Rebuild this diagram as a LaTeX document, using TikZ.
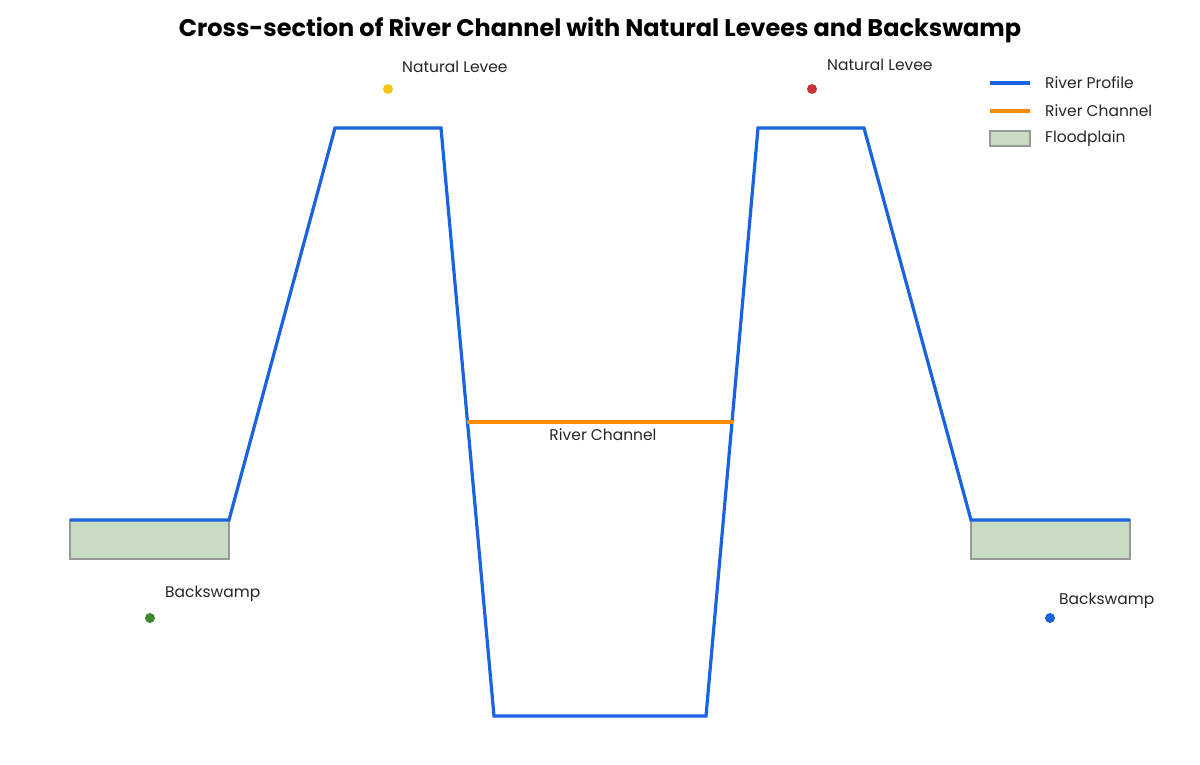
\documentclass[tikz,border=0pt]{standalone}
\usepackage{fontspec}
\setmainfont{Poppins}
\usetikzlibrary{positioning}
\definecolor{profile}{HTML}{1A63E0}
\definecolor{chan}{HTML}{FF8C00}
\definecolor{flood}{HTML}{C8DCC4}
\definecolor{levL}{HTML}{F5C518}
\definecolor{levR}{HTML}{C8333A}
\definecolor{bswL}{HTML}{3F8A2E}
\definecolor{bswR}{HTML}{1A63E0}
\tikzset{
  lbl/.style = {anchor=west, inner sep=0pt, font=\fontsize{15.5}{18}\selectfont, text=black!85},
  dot/.style = {circle, fill=#1, inner sep=0pt, minimum size=10pt},
  prof/.style = {draw=profile, line width=3.2pt, line join=miter},
  fp/.style = {draw=gray!80, fill=flood, line width=2.2pt}
}
\begin{document}
\begin{tikzpicture}[x=1pt, y=-1pt]
\useasboundingbox (0,0) rectangle (1200,765);
\node (title) at (600,30) {\fontsize{24}{28}\selectfont\bfseries Cross-section of River Channel with Natural Levees and Backswamp};

% floodplains
\draw[fp] (70,520) rectangle (229,559);
\draw[fp] (971,520) rectangle (1130,559);

% profile
\coordinate (p1) at (70,520);   \coordinate (p2) at (229,520);
\coordinate (p3) at (335,128);  \coordinate (p4) at (441,128);
\coordinate (p5) at (494,716);  \coordinate (p6) at (706,716);
\coordinate (p7) at (758,128);  \coordinate (p8) at (864,128);
\coordinate (p9) at (971,520);  \coordinate (p10) at (1130,520);
\draw[prof] (p1) -- (p2) -- (p3) -- (p4) -- (p5) -- (p6) -- (p7) -- (p8) -- (p9) -- (p10);

% channel water level
\coordinate (c1) at (467,422); \coordinate (c2) at (733,422);
\draw[chan, line width=4.5pt] (c1) -- (c2);
\node[lbl, anchor=center] (chlab) at (603,435) {River Channel};

% markers
\node[dot=levL] (lvA) at (388,89) {};
\node[lbl] (lvAl) at (402,67) {Natural Levee};
\node[dot=levR] (lvB) at (812,89) {};
\node[lbl] (lvBl) at (827,65) {Natural Levee};
\node[dot=bswL] (bsA) at (150,618) {};
\node[lbl] (bsAl) at (165,594) {Backswamp};
\node[dot=bswR] (bsB) at (1050,618) {};
\node[lbl] (bsBl) at (1059,601) {Backswamp};

% legend
\coordinate (g1) at (990,83); \coordinate (g2) at (1030,83);
\draw[profile, line width=3.2pt] (g1) -- (g2);
\node[lbl] at (1045,83) {River Profile};
\coordinate (g3) at (990,111); \coordinate (g4) at (1030,111);
\draw[chan, line width=4.5pt] (g3) -- (g4);
\node[lbl] at (1045,111) {River Channel};
\draw[fp] (990,131) rectangle (1030,146);
\node[lbl] at (1045,139) {Floodplain};
\end{tikzpicture}
\end{document}
